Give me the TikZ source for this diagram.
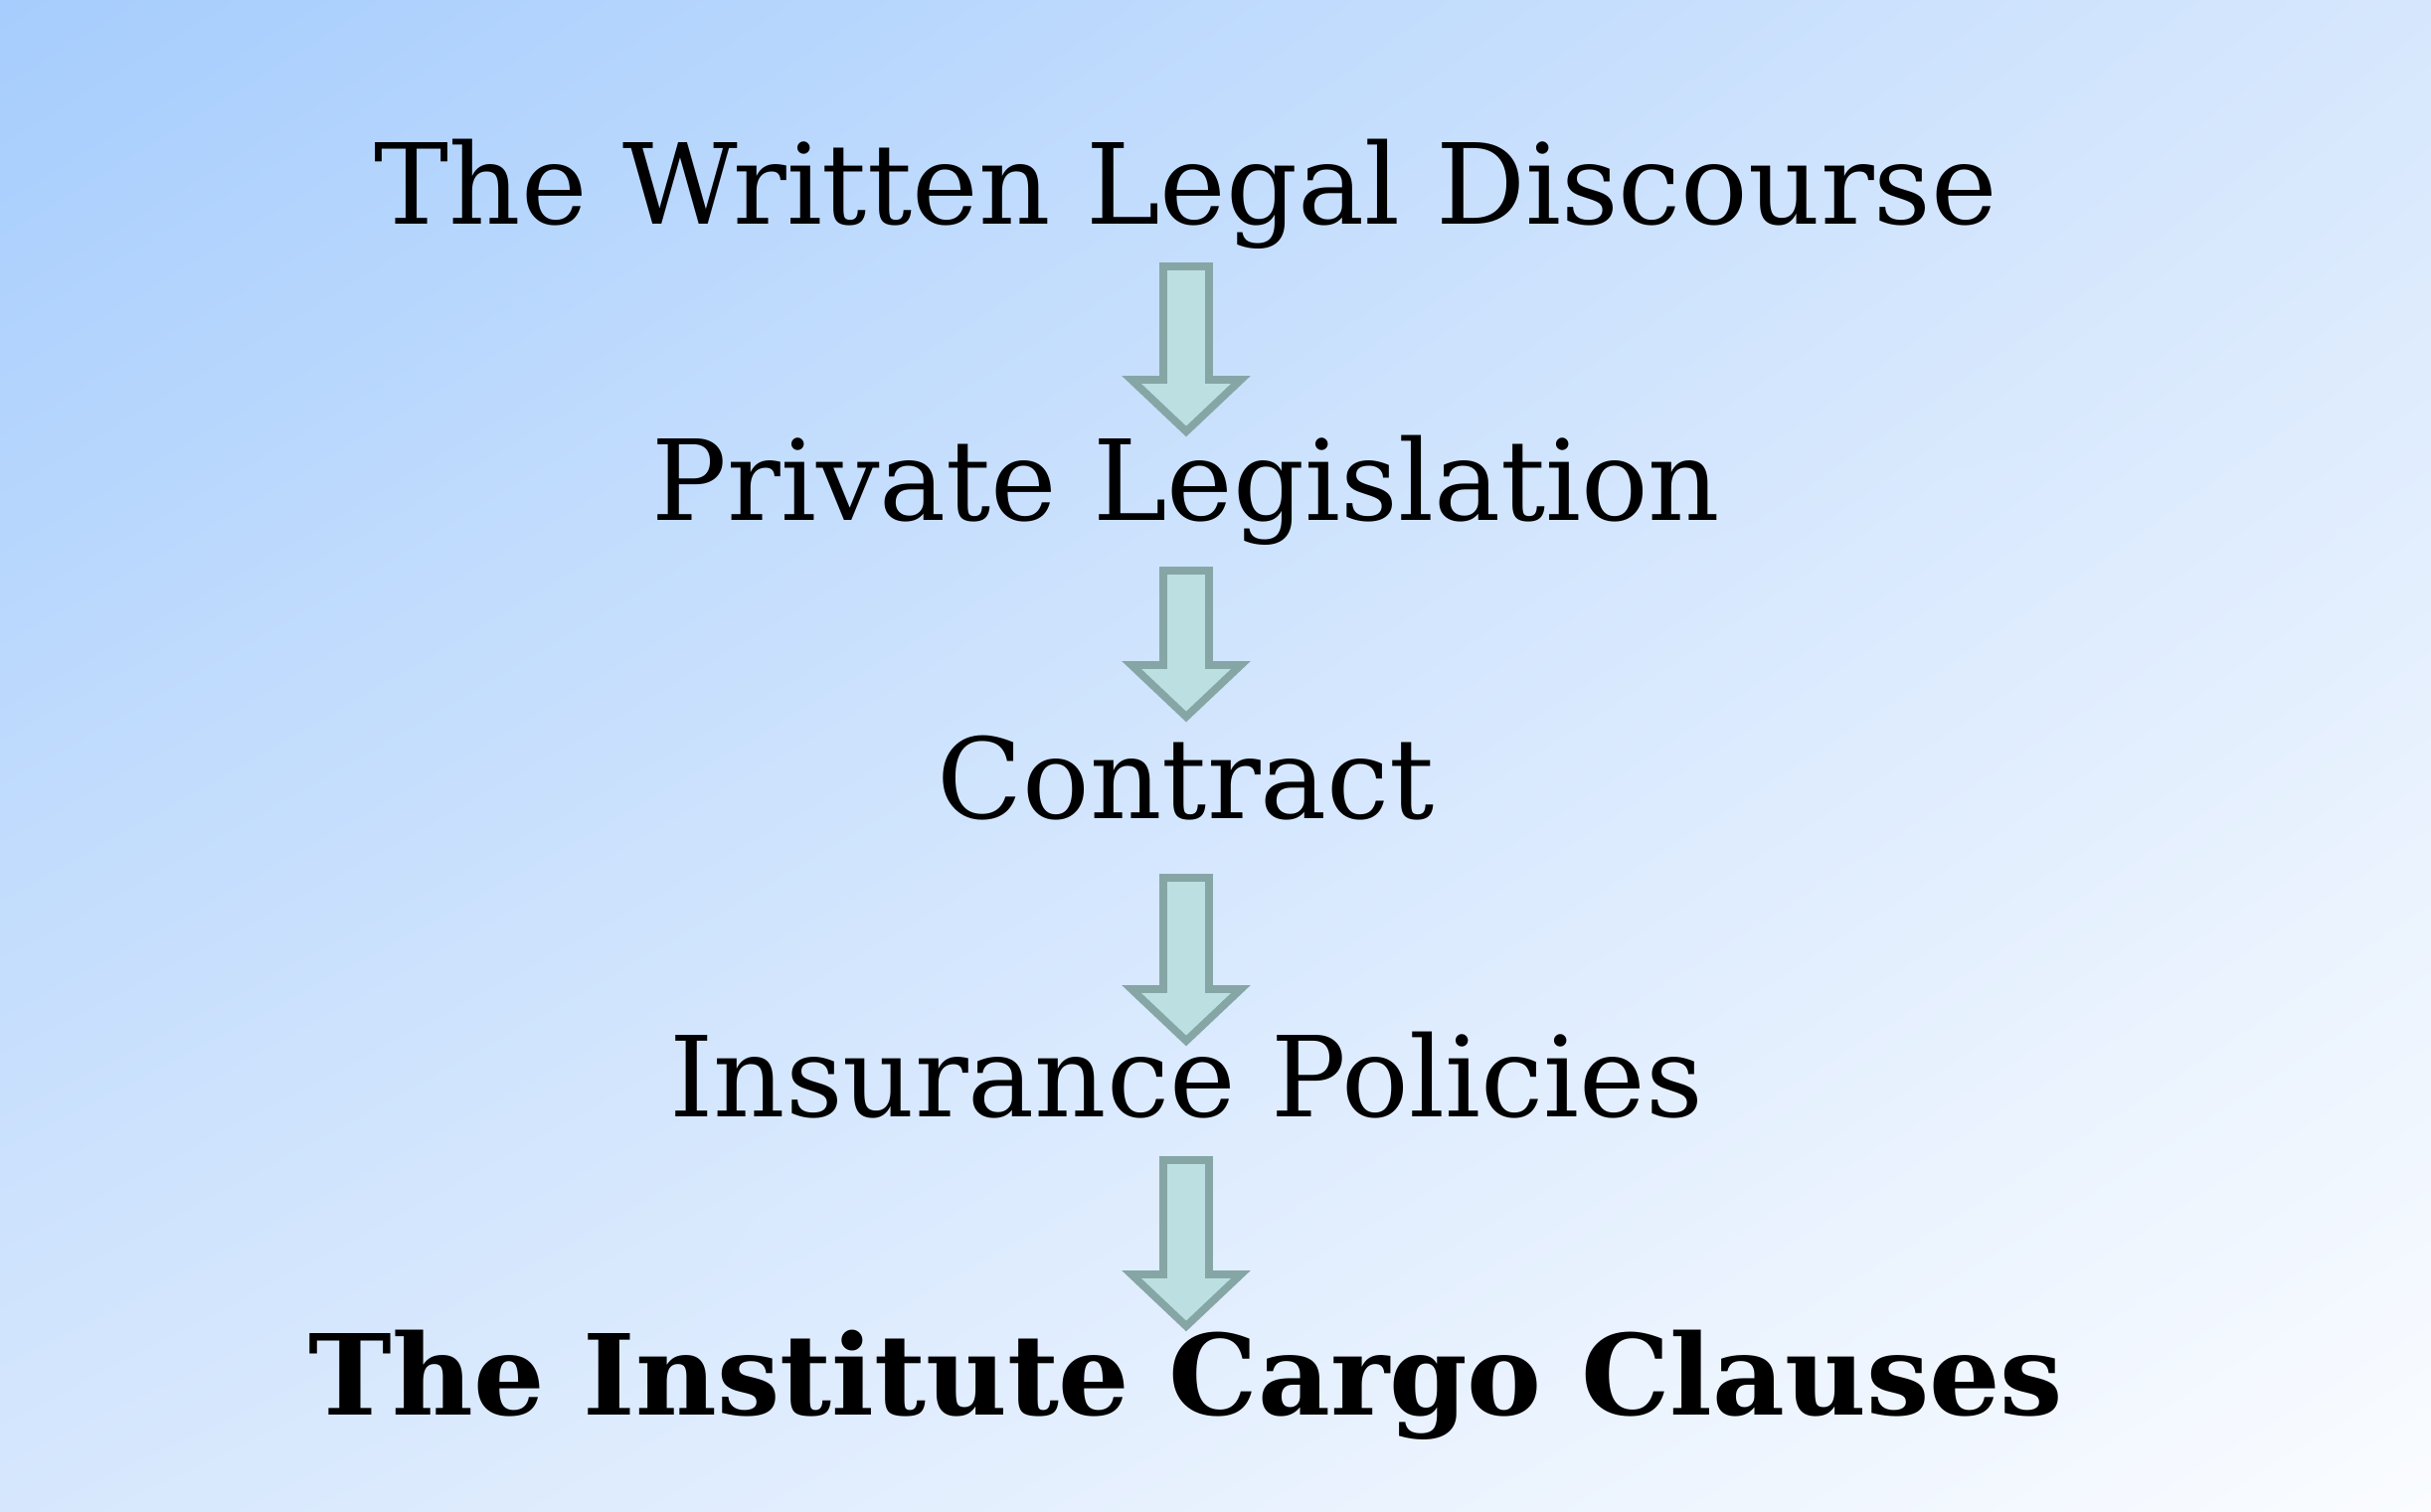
\documentclass[tikz,border=0pt]{standalone}
\usepackage{fontspec}
\setmainfont{DejaVu Serif}
\usetikzlibrary{shadings}
\definecolor{bgblue}{HTML}{A6CDFD}
\definecolor{bgmid}{HTML}{D6E7FD}
\definecolor{bgwhite}{HTML}{FAFCFF}
\definecolor{arrowfill}{HTML}{BCE0E2}
\definecolor{arrowline}{HTML}{86A6A6}
\tikzset{
  level/.style={anchor=base, font=\fontsize{32}{38}\selectfont, inner sep=0pt},
  blockarrow/.style={fill=arrowfill, draw=arrowline, line width=2.2pt, line join=miter},
}
\begin{document}
\begin{tikzpicture}
\shade[upper left=bgblue, upper right=bgmid, lower left=bgmid, lower right=bgwhite]
  (0,0) rectangle (24.45,15.2);
\useasboundingbox (0,0) rectangle (24.45,15.2);

\node[level] (discourse) at (11.93,12.94) {The Written Legal Discourse};
\node[level] (legislation) at (11.93,9.97) {Private Legislation};
\node[level] (contract) at (11.93,6.97) {Contract};
\node[level] (policies) at (11.93,3.97) {Insurance Policies};
\node[level, font=\fontsize{32}{38}\selectfont\bfseries] (clauses) at (11.93,0.97) {The Institute Cargo Clauses};

% block arrows between the levels
\foreach \top/\bot in {12.52/10.86, 9.46/7.99, 6.37/4.73, 3.53/1.86}{
  \draw[blockarrow] (11.70,\top) -- (12.16,\top) -- (12.16,\bot+0.52) -- (12.48,\bot+0.52)
    -- (11.93,\bot) -- (11.38,\bot+0.52) -- (11.70,\bot+0.52) -- cycle;
}
\end{tikzpicture}
\end{document}
